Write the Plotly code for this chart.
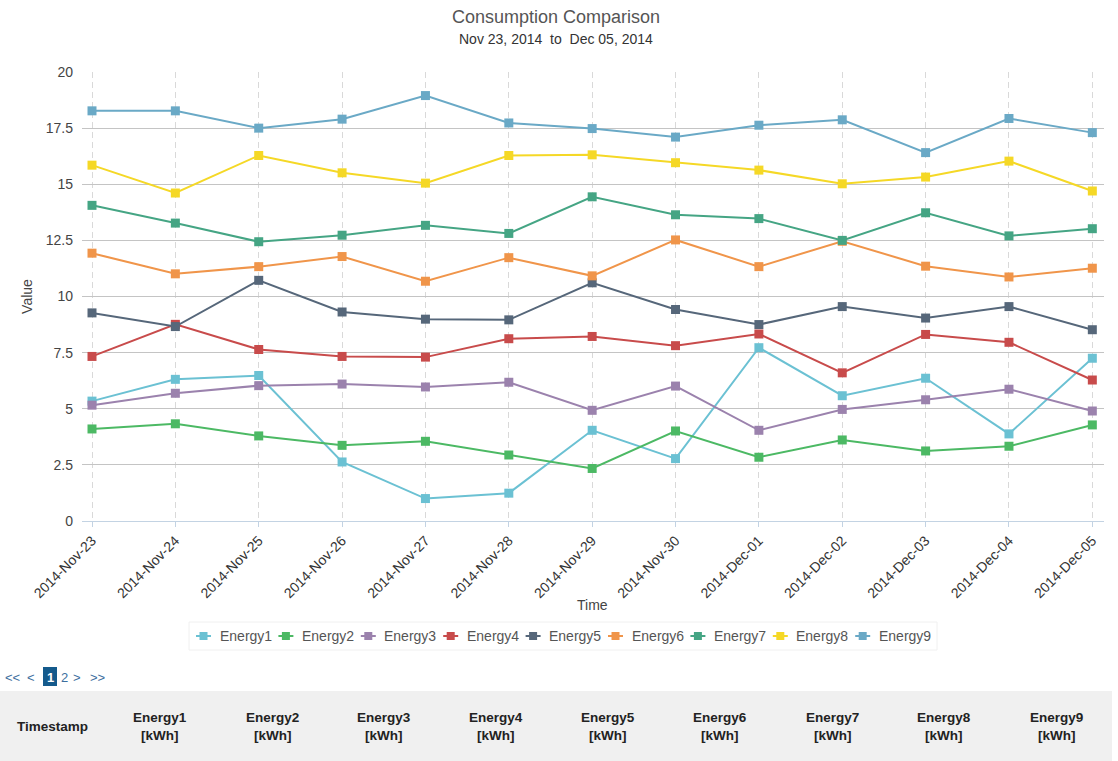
import plotly.graph_objects as go

dates = ["2014-Nov-23", "2014-Nov-24", "2014-Nov-25", "2014-Nov-26", "2014-Nov-27",
         "2014-Nov-28", "2014-Nov-29", "2014-Nov-30", "2014-Dec-01", "2014-Dec-02",
         "2014-Dec-03", "2014-Dec-04", "2014-Dec-05"]

energy1 = [5.34, 6.31, 6.48, 2.63, 1.00, 1.24, 4.04, 2.78, 7.72, 5.58, 6.36, 3.88, 7.25]
energy2 = [4.10, 4.33, 3.79, 3.37, 3.55, 2.94, 2.34, 4.01, 2.84, 3.61, 3.12, 3.33, 4.28]
energy3 = [5.16, 5.69, 6.03, 6.10, 5.97, 6.18, 4.93, 6.01, 4.04, 4.97, 5.40, 5.87, 4.90]
energy4 = [7.33, 8.76, 7.64, 7.33, 7.30, 8.12, 8.22, 7.81, 8.33, 6.60, 8.31, 7.96, 6.28]
energy5 = [9.27, 8.66, 10.72, 9.31, 8.99, 8.96, 10.61, 9.42, 8.75, 9.55, 9.04, 9.55, 8.52]
energy6 = [11.93, 11.01, 11.33, 11.78, 10.68, 11.73, 10.92, 12.52, 11.33, 12.46, 11.35, 10.87, 11.26]
energy7 = [14.06, 13.27, 12.44, 12.73, 13.17, 12.81, 14.44, 13.64, 13.47, 12.50, 13.73, 12.70, 13.02]
energy8 = [15.85, 14.61, 16.28, 15.51, 15.05, 16.28, 16.31, 15.96, 15.63, 15.02, 15.32, 16.03, 14.70]
energy9 = [18.27, 18.27, 17.50, 17.90, 18.95, 17.73, 17.48, 17.10, 17.63, 17.87, 16.41, 17.93, 17.30]

series_names = ["Energy1", "Energy2", "Energy3", "Energy4", "Energy5",
                "Energy6", "Energy7", "Energy8", "Energy9"]
series_values = [energy1, energy2, energy3, energy4, energy5,
                 energy6, energy7, energy8, energy9]
colors = ["#6bc1d3", "#4cb964", "#9b82ad", "#c84b4b", "#56677a",
          "#f0954a", "#45a584", "#f5d826", "#6aa9c6"]

table_headers = ["Timestamp"] + [f"{n}<br>[kWh]" for n in series_names]
title_text = "Consumption Comparison"
subtitle_text = "Nov 23, 2014\u00a0\u00a0to\u00a0\u00a0Dec 05, 2014"
x_title = "Time"
y_title = "Value"

FONT = "Liberation Sans, Arial, sans-serif"
W, H = 1118, 761
L, R, T, B = 82, 1104, 72, 521


def px(x):
    return (x - L) / (R - L)


def py(y):
    return (B - y) / (B - T)


fig = go.Figure()
for name, vals, col in zip(series_names, series_values, colors):
    fig.add_trace(go.Scatter(
        x=dates, y=vals, name=name, mode="lines+markers",
        line=dict(color=col, width=2),
        marker=dict(symbol="square", size=9, color=col),
        showlegend=False,
    ))

annotations = []
shapes = []

# subtitle
annotations.append(dict(text=subtitle_text, x=px(556), y=py(39), xref="paper", yref="paper",
                        showarrow=False, xanchor="center", yanchor="middle",
                        font=dict(family=FONT, size=14, color="#333")))
# x axis title
annotations.append(dict(text=x_title, x=px(592), y=py(605), xref="paper", yref="paper",
                        showarrow=False, xanchor="center", yanchor="middle",
                        font=dict(family=FONT, size=14, color="#444")))

# legend (drawn manually to match the compact legend of the reference)
shapes.append(dict(type="rect", xref="paper", yref="paper",
                   x0=px(189), x1=px(937), y0=py(650), y1=py(622),
                   fillcolor="rgba(0,0,0,0)", line=dict(color="#f0f0f0", width=1)))
leg_y = 636
for i, (name, col) in enumerate(zip(series_names, colors)):
    cx = 203.5 + i * 82.4
    shapes.append(dict(type="line", xref="paper", yref="paper",
                       x0=px(cx - 7.5), x1=px(cx + 7.5), y0=py(leg_y), y1=py(leg_y),
                       line=dict(color=col, width=2)))
    shapes.append(dict(type="rect", xref="paper", yref="paper",
                       x0=px(cx - 4), x1=px(cx + 4), y0=py(leg_y + 4), y1=py(leg_y - 4),
                       fillcolor=col, line=dict(width=0)))
    annotations.append(dict(text=name, x=px(cx + 14), y=py(leg_y), xref="paper", yref="paper",
                            showarrow=False, xanchor="left", yanchor="middle",
                            font=dict(family=FONT, size=14, color="#555")))

# table header background
shapes.append(dict(type="rect", xref="paper", yref="paper",
                   x0=px(0), x1=px(1112), y0=py(761), y1=py(691),
                   fillcolor="#f0f0f0", line=dict(width=0), layer="below"))
# pagination active box
shapes.append(dict(type="rect", xref="paper", yref="paper",
                   x0=px(43), x1=px(57), y0=py(686), y1=py(667),
                   fillcolor="#145a8c", line=dict(width=0)))

header_x = [52, 160, 272, 384, 496, 608, 720, 832, 944, 1056]
for hx, txt in zip(header_x, table_headers):
    annotations.append(dict(text=f"<b>{txt}</b>", x=px(hx), y=py(726),
                            xref="paper", yref="paper", showarrow=False,
                            xanchor="center", yanchor="middle",
                            font=dict(family=FONT, size=13.5, color="#222")))

pag = [("<<", 12, "#3c6e9e"), ("<", 31, "#3c6e9e"), ("<b>1</b>", 50, "#ffffff"),
       ("2", 64, "#3c6e9e"), (">", 77, "#3c6e9e"), (">>", 97, "#3c6e9e")]
for txt, x, c in pag:
    annotations.append(dict(text=txt, x=px(x), y=py(677), xref="paper", yref="paper",
                            showarrow=False, xanchor="center", yanchor="middle",
                            font=dict(family=FONT, size=13, color=c)))

fig.update_layout(
    width=W, height=H,
    margin=dict(l=L, r=W - R, t=T, b=H - B, pad=0),
    paper_bgcolor="white", plot_bgcolor="white",
    font=dict(family=FONT, size=13, color="#444"),
    showlegend=False,
    title=dict(text=title_text,
               x=556 / W, xanchor="center", xref="container",
               y=1 - 17 / H, yanchor="middle", yref="container",
               font=dict(family=FONT, size=18, color="#555")),
    xaxis=dict(type="category", range=[-0.12, 12.14],
               showgrid=True, gridcolor="#d9d9d9", griddash="6px,4px", gridwidth=1,
               showline=True, linecolor="#c3d3e3", linewidth=1,
               ticks="outside", ticklen=5, tickcolor="#c3d3e3",
               tickangle=-45, tickfont=dict(family=FONT, size=14, color="#333"),
               zeroline=False),
    yaxis=dict(range=[0, 20], dtick=2.5, tick0=0,
               showgrid=True, gridcolor="#c4c4c4", gridwidth=1,
               showline=False, zeroline=False,
               ticks="", ticklabelstandoff=8,
               tickfont=dict(family=FONT, size=14, color="#444"),
               title=dict(text=y_title, standoff=9,
                          font=dict(family=FONT, size=14, color="#444"))),
    annotations=annotations,
    shapes=shapes,
)

fig.write_html("out.html")
